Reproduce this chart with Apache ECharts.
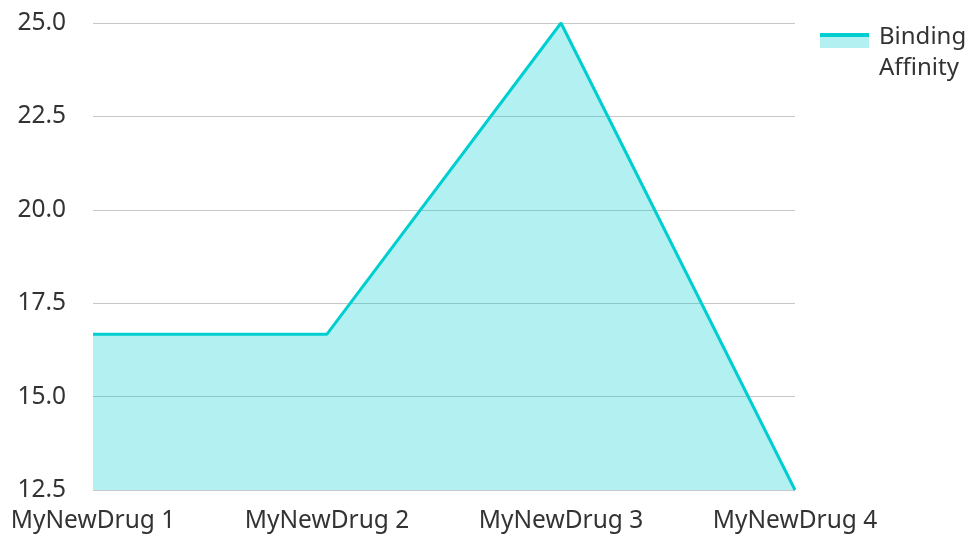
<!DOCTYPE html>
<html>
<head>
<meta charset="utf-8">
<script src="https://cdn.jsdelivr.net/npm/echarts@6/dist/echarts.min.js"></script>
<style>html,body{margin:0;padding:0;background:#fff}#c{width:970px;height:534px}</style>
</head>
<body>
<div id="c"></div>
<script>
const categories = ['MyNewDrug 1', 'MyNewDrug 2', 'MyNewDrug 3', 'MyNewDrug 4'];
const bindingAffinity = [16.67, 16.67, 25.0, 12.5];
const seriesName = 'Binding Affinity';

const chart = echarts.init(document.getElementById('c'), null, {renderer: 'canvas'});
const FONT = '"Noto Sans", "Open Sans", sans-serif';
const TEAL = '#00CED1';
chart.setOption({
  animation: false,
  grid: {left: 93, right: 175, top: 23, bottom: 44, containLabel: false},
  legend: {
    data: [{name: seriesName, icon: 'rect'}],
    left: 820, top: -3, padding: 0,
    itemWidth: 49, itemHeight: 15, itemGap: 10,
    formatter: () => '{s| }\n{a|Binding}\n{a|Affinity}',
    itemStyle: {
      color: {type: 'linear', x: 0, y: 0, x2: 0, y2: 1, colorStops: [
        {offset: 0, color: TEAL}, {offset: 0.27, color: TEAL},
        {offset: 0.27, color: '#b2f0f1'}, {offset: 1, color: '#b2f0f1'}]}
    },
    textStyle: {
      fontFamily: FONT, fontSize: 24, color: '#333', lineHeight: 31,
      rich: {
        s: {fontFamily: FONT, fontSize: 12, lineHeight: 25},
        a: {fontFamily: FONT, fontSize: 24, color: '#333', lineHeight: 31, padding: [0, 0, 0, 5]}
      }
    }
  },
  xAxis: {
    type: 'category', data: categories, boundaryGap: false,
    axisLine: {show: false}, axisTick: {show: false},
    axisLabel: {fontFamily: FONT, fontSize: 24.5, color: '#333', margin: 19}
  },
  yAxis: {
    type: 'value', min: 12.5, max: 25, interval: 2.5,
    axisLine: {show: false}, axisTick: {show: false},
    splitLine: {lineStyle: {color: '#c8c8c8', width: 1}},
    axisLabel: {fontFamily: FONT, fontSize: 24.5, color: '#333', margin: 27, formatter: v => v.toFixed(1)}
  },
  series: [{
    name: seriesName, type: 'line', data: bindingAffinity,
    symbol: 'none', lineStyle: {color: TEAL, width: 3},
    itemStyle: {color: TEAL},
    areaStyle: {color: TEAL, opacity: 0.3}
  }]
});
</script>
</body>
</html>
